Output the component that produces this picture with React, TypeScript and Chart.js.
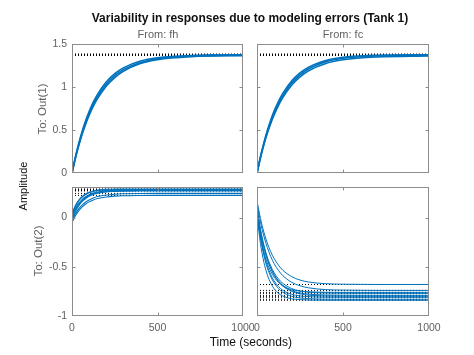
import React, { useEffect, useRef } from "react";
import { Chart, registerables } from "chart.js";

Chart.register(...registerables);

// ---------------- data ----------------
const TIMES = [0, 20, 40, 60, 80, 100, 125, 150, 200, 250, 300, 400, 500, 700, 1000];
const X_TICKS = [0, 500, 1000];
const Y_TICKS_OUT1 = [0, 0.5, 1, 1.5];
const Y_TICKS_OUT2 = [-1, -0.5, 0];

// From: fh -> To: Out(1)
const fhOut1A = [0, 0.178, 0.334, 0.47, 0.586, 0.689, 0.799, 0.891, 1.032, 1.132, 1.202, 1.286, 1.329, 1.36, 1.369];
const fhOut1B = [0, 0.187, 0.35, 0.49, 0.61, 0.715, 0.826, 0.918, 1.058, 1.155, 1.222, 1.302, 1.34, 1.367, 1.375];
const fhOut1C = [0, 0.172, 0.322, 0.454, 0.567, 0.668, 0.776, 0.867, 1.01, 1.11, 1.183, 1.272, 1.318, 1.353, 1.365];
const fhOut1Final = [1.37, 1.38];

// From: fc -> To: Out(1)
const fcOut1A = [0, 0.19, 0.353, 0.495, 0.617, 0.722, 0.834, 0.926, 1.067, 1.163, 1.231, 1.308, 1.346, 1.37, 1.375];
const fcOut1B = [0, 0.181, 0.339, 0.476, 0.594, 0.698, 0.808, 0.9, 1.043, 1.142, 1.212, 1.295, 1.335, 1.362, 1.37];
const fcOut1C = [0, 0.175, 0.328, 0.461, 0.577, 0.677, 0.786, 0.877, 1.017, 1.118, 1.189, 1.274, 1.316, 1.349, 1.362];
const fcOut1Final = [1.37, 1.38];

// From: fh -> To: Out(2)
const fhOut2A = [0.04, 0.123, 0.178, 0.215, 0.24, 0.256, 0.27, 0.278, 0.286, 0.288, 0.29, 0.29, 0.29, 0.29, 0.29];
const fhOut2B = [0.02, 0.094, 0.147, 0.184, 0.211, 0.231, 0.248, 0.259, 0.271, 0.276, 0.278, 0.28, 0.28, 0.28, 0.28];
const fhOut2C = [0.0, 0.078, 0.134, 0.174, 0.202, 0.223, 0.241, 0.252, 0.265, 0.271, 0.273, 0.275, 0.275, 0.275, 0.275];
const fhOut2D = [-0.02, 0.062, 0.121, 0.163, 0.193, 0.215, 0.234, 0.246, 0.26, 0.265, 0.268, 0.27, 0.27, 0.27, 0.27];
const fhOut2E = [-0.03, 0.038, 0.09, 0.128, 0.157, 0.179, 0.199, 0.213, 0.229, 0.237, 0.241, 0.244, 0.245, 0.245, 0.245];
const fhOut2F = [-0.05, 0.018, 0.07, 0.108, 0.137, 0.159, 0.179, 0.193, 0.209, 0.217, 0.221, 0.224, 0.225, 0.225, 0.225];
const fhOut2G = [0.03, 0.114, 0.171, 0.208, 0.233, 0.251, 0.264, 0.272, 0.28, 0.283, 0.284, 0.285, 0.285, 0.285, 0.285];
const fhOut2Final = [0.29, 0.285, 0.28, 0.275, 0.27, 0.245, 0.225];

// From: fc -> To: Out(2)
const fcOut2A = [0.17, -0.008, -0.149, -0.26, -0.348, -0.418, -0.484, -0.535, -0.599, -0.635, -0.655, -0.672, -0.677, -0.68, -0.68];
const fcOut2B = [0.14, -0.045, -0.19, -0.305, -0.397, -0.469, -0.538, -0.59, -0.656, -0.693, -0.714, -0.732, -0.737, -0.74, -0.74];
const fcOut2C = [0.1, -0.117, -0.278, -0.401, -0.492, -0.561, -0.624, -0.668, -0.72, -0.746, -0.758, -0.767, -0.769, -0.77, -0.77];
const fcOut2D = [0.08, -0.137, -0.298, -0.421, -0.512, -0.581, -0.644, -0.688, -0.74, -0.766, -0.778, -0.787, -0.789, -0.79, -0.79];
const fcOut2E = [0.06, -0.186, -0.364, -0.49, -0.58, -0.646, -0.701, -0.739, -0.779, -0.796, -0.804, -0.809, -0.81, -0.81, -0.81];
const fcOut2F = [0.04, -0.206, -0.384, -0.51, -0.6, -0.666, -0.721, -0.759, -0.799, -0.816, -0.824, -0.829, -0.83, -0.83, -0.83];
const fcOut2G = [0.02, -0.264, -0.454, -0.581, -0.666, -0.724, -0.769, -0.797, -0.825, -0.834, -0.838, -0.84, -0.84, -0.84, -0.84];
const fcOut2H = [0.09, -0.132, -0.297, -0.423, -0.516, -0.586, -0.65, -0.696, -0.749, -0.775, -0.788, -0.797, -0.799, -0.8, -0.8];
const fcOut2I = [0.05, -0.179, -0.344, -0.462, -0.546, -0.607, -0.659, -0.694, -0.731, -0.747, -0.754, -0.759, -0.76, -0.76, -0.76];
const fcOut2Final = [-0.68, -0.74, -0.76, -0.77, -0.79, -0.8, -0.81, -0.83, -0.84];

// ---------------- styling ----------------
const W = 474;
const H = 355;
const BLUE = "#0072BD";
const FRAME = "#8c8c8c";
const TICK_TEXT = "#5f5f5f";
const FONT = "'Liberation Sans', Arial, Helvetica, sans-serif";
const Y_SCALE_W = 40;
const X_SCALE_H = 24;

type Panel = {
  curves: number[][];
  finals: number[];
  yMin: number;
  yMax: number;
  yTicks: number[];
  showX: boolean;
  showY: boolean;
  box: { l: number; t: number; r: number; b: number };
  lineWidth: number;
  dotWidth: number;
};

const PANELS: Panel[] = [
  {
    curves: [fhOut1A, fhOut1B, fhOut1C],
    finals: fhOut1Final,
    yMin: 0, yMax: 1.5, yTicks: Y_TICKS_OUT1,
    showX: false, showY: true,
    box: { l: 72, t: 44, r: 243, b: 173 },
    lineWidth: 1.6, dotWidth: 1.6,
  },
  {
    curves: [fcOut1A, fcOut1B, fcOut1C],
    finals: fcOut1Final,
    yMin: 0, yMax: 1.5, yTicks: Y_TICKS_OUT1,
    showX: false, showY: false,
    box: { l: 257, t: 44, r: 429, b: 173 },
    lineWidth: 1.6, dotWidth: 1.6,
  },
  {
    curves: [fhOut2A, fhOut2B, fhOut2C, fhOut2D, fhOut2E, fhOut2F, fhOut2G],
    finals: fhOut2Final,
    yMin: -1, yMax: 0.31, yTicks: Y_TICKS_OUT2,
    showX: true, showY: true,
    box: { l: 72, t: 187, r: 243, b: 316 },
    lineWidth: 1.1, dotWidth: 1,
  },
  {
    curves: [fcOut2A, fcOut2B, fcOut2C, fcOut2D, fcOut2E, fcOut2F, fcOut2G, fcOut2H, fcOut2I],
    finals: fcOut2Final,
    yMin: -1, yMax: 0.31, yTicks: Y_TICKS_OUT2,
    showX: true, showY: false,
    box: { l: 257, t: 187, r: 429, b: 316 },
    lineWidth: 1, dotWidth: 1,
  },
];

const framePlugin = {
  id: "matlabFrame",
  afterDatasetsDraw(chart: any) {
    const { ctx, chartArea: a, scales } = chart;
    const L = Math.round(a.left) + 0.5;
    const R = Math.round(a.right) - 0.5;
    const T = Math.round(a.top) + 0.5;
    const B = Math.round(a.bottom) - 0.5;
    ctx.save();
    ctx.strokeStyle = FRAME;
    ctx.lineWidth = 1;
    ctx.strokeRect(L, T, R - L, B - T);
    const tl = 3;
    ctx.beginPath();
    scales.x.ticks.forEach((t: any) => {
      const px = Math.round(scales.x.getPixelForValue(t.value)) + 0.5;
      if (px <= L + 1 || px >= R - 1) return;
      ctx.moveTo(px, B);
      ctx.lineTo(px, B - tl);
      ctx.moveTo(px, T);
      ctx.lineTo(px, T + tl);
    });
    scales.y.ticks.forEach((t: any) => {
      const py = Math.round(scales.y.getPixelForValue(t.value)) + 0.5;
      if (py <= T + 1 || py >= B - 1) return;
      ctx.moveTo(L, py);
      ctx.lineTo(L + tl, py);
      ctx.moveTo(R, py);
      ctx.lineTo(R - tl, py);
    });
    ctx.stroke();
    ctx.restore();
  },
};

function buildConfig(p: Panel): any {
  const datasets: any[] = [];
  p.finals.forEach((f) => {
    datasets.push({
      data: [
        { x: X_TICKS[0], y: f },
        { x: X_TICKS[X_TICKS.length - 1], y: f },
      ],
      borderColor: "#000000",
      borderWidth: p.dotWidth,
      borderDash: [1, 2],
      pointRadius: 0,
      order: 2,
    });
  });
  p.curves.forEach((c) => {
    datasets.push({
      data: c.map((v, i) => ({ x: TIMES[i], y: v })),
      borderColor: BLUE,
      borderWidth: p.lineWidth,
      pointRadius: 0,
      cubicInterpolationMode: "monotone",
      order: 1,
    });
  });
  return {
    type: "line",
    data: { datasets },
    options: {
      animation: false,
      responsive: false,
      events: [],
      layout: {
        autoPadding: false,
        padding: {
          left: p.box.l - Y_SCALE_W,
          top: p.box.t,
          right: W - p.box.r,
          bottom: H - p.box.b - X_SCALE_H,
        },
      },
      plugins: { legend: { display: false }, tooltip: { enabled: false }, title: { display: false } },
      scales: {
        x: {
          type: "linear",
          min: X_TICKS[0],
          max: X_TICKS[X_TICKS.length - 1],
          afterBuildTicks: (s: any) => {
            s.ticks = X_TICKS.map((v) => ({ value: v }));
          },
          afterFit: (s: any) => {
            s.height = X_SCALE_H;
          },
          grid: { display: false, drawTicks: false },
          border: { display: false },
          ticks: {
            display: p.showX,
            padding: 6,
            color: TICK_TEXT,
            maxRotation: 0,
            autoSkip: false,
            font: { family: FONT, size: 10.5 },
            callback: (v: any) => String(v),
          },
        },
        y: {
          type: "linear",
          min: p.yMin,
          max: p.yMax,
          afterBuildTicks: (s: any) => {
            s.ticks = p.yTicks.map((v) => ({ value: v }));
          },
          afterFit: (s: any) => {
            s.width = Y_SCALE_W;
          },
          grid: { display: false, drawTicks: false },
          border: { display: false },
          ticks: {
            display: p.showY,
            padding: 5,
            color: TICK_TEXT,
            autoSkip: false,
            font: { family: FONT, size: 10.5 },
            callback: (v: any) => String(v),
          },
        },
      },
    },
    plugins: [framePlugin],
  };
}

function PanelCanvas({ panel }: { panel: Panel }) {
  const ref = useRef<HTMLCanvasElement | null>(null);
  useEffect(() => {
    if (!ref.current) return;
    const chart = new Chart(ref.current, buildConfig(panel));
    return () => chart.destroy();
  }, [panel]);
  return (
    <canvas
      ref={ref}
      width={W}
      height={H}
      style={{ position: "absolute", left: 0, top: 0, width: W, height: H }}
    />
  );
}

const textBase: React.CSSProperties = {
  position: "absolute",
  fontFamily: FONT,
  whiteSpace: "nowrap",
  lineHeight: 1,
};

export default function App() {
  return (
    <div
      style={{
        position: "fixed",
        left: 0,
        top: 0,
        width: W,
        height: H,
        background: "#ffffff",
        overflow: "hidden",
      }}
    >
      {PANELS.map((p, i) => (
        <PanelCanvas key={i} panel={p} />
      ))}
      <div
        style={{
          ...textBase,
          left: 250,
          top: 12,
          transform: "translateX(-50%)",
          fontSize: 12,
          fontWeight: "bold",
          color: "#111",
        }}
      >
        Variability in responses due to modeling errors (Tank 1)
      </div>
      <div style={{ ...textBase, left: 158, top: 29, transform: "translateX(-50%)", fontSize: 11, color: "#626262" }}>
        From: fh
      </div>
      <div style={{ ...textBase, left: 343, top: 29, transform: "translateX(-50%)", fontSize: 11, color: "#626262" }}>
        From: fc
      </div>
      <div
        style={{
          ...textBase,
          left: 42.7,
          top: 108.5,
          transform: "translate(-50%, -50%) rotate(-90deg)",
          fontSize: 11.5,
          color: "#626262",
        }}
      >
        To: Out(1)
      </div>
      <div
        style={{
          ...textBase,
          left: 38.8,
          top: 251,
          transform: "translate(-50%, -50%) rotate(-90deg)",
          fontSize: 11.5,
          color: "#626262",
        }}
      >
        To: Out(2)
      </div>
      <div
        style={{
          ...textBase,
          left: 22.5,
          top: 186.3,
          transform: "translate(-50%, -50%) rotate(-90deg)",
          fontSize: 11,
          color: "#111",
        }}
      >
        Amplitude
      </div>
      <div
        style={{
          ...textBase,
          left: 250.8,
          top: 336,
          transform: "translateX(-50%)",
          fontSize: 12,
          color: "#111",
        }}
      >
        Time (seconds)
      </div>
    </div>
  );
}
